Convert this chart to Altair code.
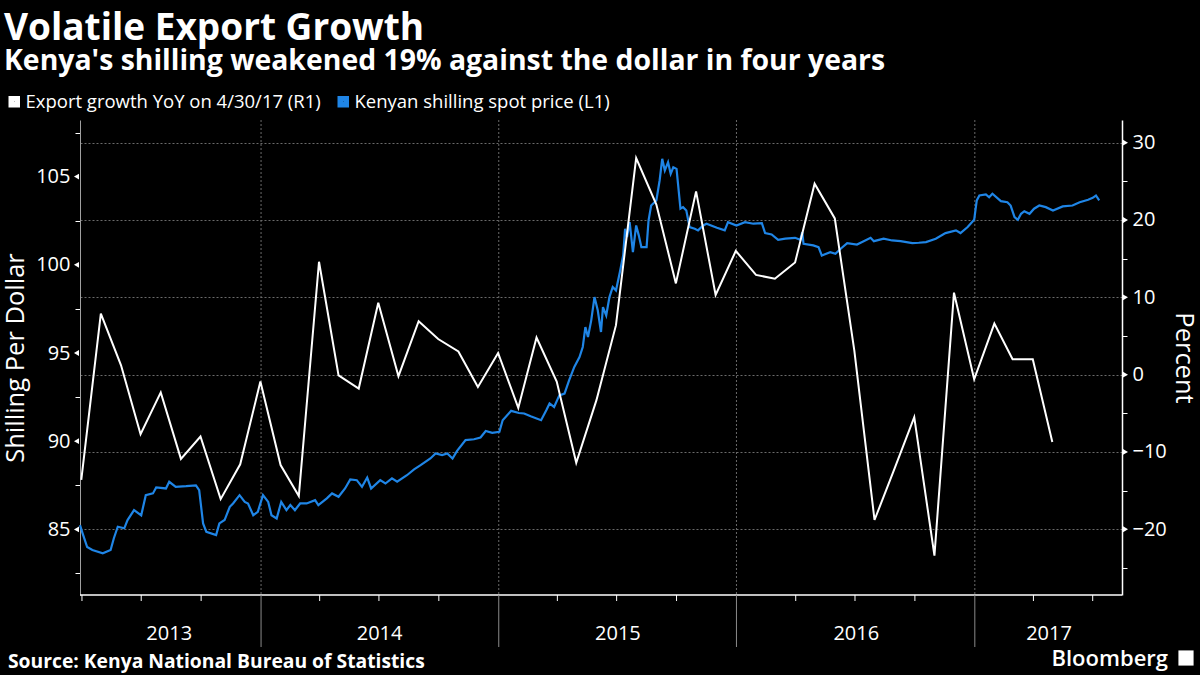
import altair as alt
import pandas as pd

FONT = "Open Sans"
BLUE = "#1f85e6"

TITLE = "Volatile Export Growth"
SUBTITLE = "Kenya's shilling weakened 19% against the dollar in four years"
SERIES = ["Export growth YoY on 4/30/17 (R1)", "Kenyan shilling spot price (L1)"]
SOURCE = "Source: Kenya National Bureau of Statistics"
BRAND = "Bloomberg"
LEFT_TITLE = "Shilling Per Dollar"
RIGHT_TITLE = "Percent"

# Monthly export growth YoY (%), month ends
export_dates = [
    "2013-03-31", "2013-04-30", "2013-05-31", "2013-06-30", "2013-07-31", "2013-08-31",
    "2013-09-30", "2013-10-31", "2013-11-30", "2013-12-31",
    "2014-01-31", "2014-02-28", "2014-03-31", "2014-04-30", "2014-05-31", "2014-06-30",
    "2014-07-31", "2014-08-31", "2014-09-30", "2014-10-31", "2014-11-30", "2014-12-31",
    "2015-01-31", "2015-02-28", "2015-03-31", "2015-04-30", "2015-05-31", "2015-06-30",
    "2015-07-31", "2015-08-31", "2015-09-30", "2015-10-31", "2015-11-30", "2015-12-31",
    "2016-01-31", "2016-02-29", "2016-03-31", "2016-04-30", "2016-05-31", "2016-06-30",
    "2016-07-31", "2016-08-31", "2016-09-30", "2016-10-31", "2016-11-30", "2016-12-31",
    "2017-01-31", "2017-02-28", "2017-03-31", "2017-04-30",
]
export_growth = [
    -13.6, 7.9, 1.2, -7.7, -2.3, -10.9, -8.0, -16.1, -11.6, -0.9,
    -11.7, -15.7, 14.6, -0.1, -1.8, 9.3, -0.2, 6.9, 4.6, 3.0, -1.6, 2.8,
    -4.3, 4.8, -0.9, -11.4, -3.3, 6.4, 28.0, 22.0, 11.8, 23.7, 10.3, 16.0,
    12.9, 12.4, 14.5, 24.7, 20.2, 3.1, -18.8, -12.1, -5.5, -23.4, 10.6, -0.6,
    6.6, 2.0, 2.0, -8.7,
]

# Kenyan shilling spot price: sample days (days after 2013-01-01) and values
fx_days = [
    87, 91, 98, 106, 122, 134, 139, 145, 155, 160, 170, 181, 188, 199, 204, 219, 224, 234,
    250, 265, 270, 276, 281, 296, 301, 309, 317, 322, 332, 340, 345, 353, 360, 368, 376,
    381, 389, 396, 404, 410, 417, 425, 435, 448, 453, 466, 474, 484, 494, 502, 512, 520,
    528, 534, 548, 556, 566, 574, 589, 600, 610, 625, 633, 643, 651, 659, 666, 679, 692,
    702, 710, 720, 731, 736, 749, 761, 769, 779, 795, 803, 808, 815, 823, 831, 838, 846,
    854, 859, 863, 867, 872, 877, 882, 887, 890, 895, 900, 905, 910, 916, 921, 924, 927,
    931, 936, 941, 945, 949, 957, 960, 964, 972, 977, 981, 985, 990, 994, 998, 1003, 1009,
    1013, 1018, 1023, 1031, 1036, 1044, 1049, 1065, 1077, 1082, 1095, 1108, 1121, 1134,
    1139, 1149, 1159, 1170, 1185, 1193, 1196, 1198, 1213, 1221, 1226, 1239, 1247, 1255,
    1265, 1280, 1288, 1301, 1306, 1321, 1334, 1347, 1365, 1375, 1386, 1401, 1416, 1432,
    1439, 1450, 1460, 1464, 1468, 1478, 1483, 1488, 1501, 1511, 1516, 1522, 1527, 1532,
    1537, 1545, 1552, 1560, 1570, 1581, 1596, 1611, 1622, 1635, 1642, 1647, 1652,
]
fx_price = [
    85.24, 84.77, 84.0, 83.83, 83.64, 83.83, 84.5, 85.15, 85.06, 85.53, 86.09, 85.8, 86.94,
    87.04, 87.38, 87.32, 87.7, 87.41, 87.45, 87.5, 87.22, 85.34, 84.86, 84.68, 85.34, 85.53,
    86.28, 86.47, 86.94, 86.56, 86.47, 85.8, 86.0, 86.94, 86.56, 85.8, 85.62, 86.56, 86.09,
    86.38, 86.09, 86.47, 86.47, 86.66, 86.38, 86.76, 87.04, 86.85, 87.32, 87.83, 87.79,
    87.41, 87.94, 87.32, 87.79, 87.6, 87.89, 87.7, 88.07, 88.4, 88.64, 89.02, 89.3, 89.21,
    89.3, 89.02, 89.45, 90.06, 90.11, 90.21, 90.58, 90.47, 90.53, 91.19, 91.72, 91.6, 91.57,
    91.41, 91.19, 91.76, 92.14, 91.94, 92.6, 92.7, 93.45, 94.21, 94.77, 95.34, 96.47, 95.91,
    96.85, 98.17, 97.42, 96.19, 97.6, 97.13, 98.17, 98.74, 98.55, 99.59, 100.53, 102.04,
    101.57, 102.42, 100.72, 102.23, 101.67, 101.0, 101.0, 102.51, 103.36, 103.65, 104.78,
    106.01, 105.35, 105.82, 105.16, 105.53, 105.44, 103.18, 103.27, 103.08, 102.14, 102.04,
    101.95, 102.23, 102.33, 102.1, 101.95, 102.42, 102.23, 102.42, 102.33, 102.36, 101.8,
    101.72, 101.42, 101.48, 101.53, 101.42, 101.85, 101.19, 101.1, 101.0, 100.53, 100.72,
    100.63, 100.91, 101.23, 101.15, 101.29, 101.53, 101.34, 101.48, 101.38, 101.34, 101.23,
    101.25, 101.29, 101.48, 101.8, 101.95, 101.8, 102.14, 102.55, 103.65, 103.93, 103.99,
    103.83, 104.03, 103.61, 103.55, 103.36, 102.7, 102.55, 102.89, 103.04, 102.89, 103.18,
    103.36, 103.27, 103.08, 103.31, 103.36, 103.55, 103.69, 103.8, 103.93, 103.65,
]

left_ticks = [82.5, 85, 87.5, 90, 92.5, 95, 97.5, 100, 102.5, 105, 107.5]
left_major = [85, 90, 95, 100, 105]
right_ticks = [-25, -20, -15, -10, -5, 0, 5, 10, 15, 20, 25, 30]
right_major = [-20, -10, 0, 10, 20, 30]
year_starts = ["2014-01-01", "2015-01-01", "2016-01-01", "2017-01-01"]
quarter_starts = [
    "2013-04-01", "2013-07-01", "2013-10-01",
    "2014-04-01", "2014-07-01", "2014-10-01",
    "2015-04-01", "2015-07-01", "2015-10-01",
    "2016-04-01", "2016-07-01", "2016-10-01",
    "2017-04-01", "2017-07-01",
]
year_labels = ["2013", "2014", "2015", "2016", "2017"]
year_label_pos = ["2013-08-13", "2014-07-02", "2015-07-03", "2016-07-03", "2017-04-25"]

# ---------------- data frames ----------------
exp_df = pd.DataFrame({
    "date": pd.to_datetime(export_dates),
    "value": export_growth,
    "series": SERIES[0],
})
fx_df = pd.DataFrame({
    "date": pd.Timestamp("2013-01-01") + pd.to_timedelta(fx_days, unit="D"),
    "value": fx_price,
    "series": SERIES[1],
})
year_df = pd.DataFrame({"d": pd.to_datetime(year_starts)})
quarter_df = pd.DataFrame({"d": pd.to_datetime(quarter_starts)})
ylabel_df = pd.DataFrame({"d": pd.to_datetime(year_label_pos), "label": year_labels})

W, H = 1042, 475
PAD_L, PAD_T = 80, 120
GRID = "#6a6a6a"

x_scale = alt.Scale(domain=[alt.DateTime(year=2013, month=3, date=29),
                            alt.DateTime(year=2017, month=8, date=15)])
left_scale = alt.Scale(domain=[81.28, 108.21], nice=False, zero=False)
right_scale = alt.Scale(domain=[-28.5, 32.93], nice=False, zero=False)
color_scale = alt.Scale(domain=SERIES, range=["#ffffff", BLUE])

left_axis = alt.Axis(
    orient="left", values=left_ticks,
    labelExpr="datum.value % 5 == 0 ? datum.label : ''",
    labelOverlap=False,
    tickSize=5, tickColor="white", tickWidth=1,
    tickOpacity={"condition": {"test": "datum.value % 5 == 0", "value": 0}, "value": 1},
    labelPadding=5, labelFontSize=20, labelColor="white", labelFont=FONT,
    domainColor="#a0a0a0", domainWidth=1, grid=False,
    title=LEFT_TITLE, titleFontSize=25.5, titleFont=FONT, titleFontWeight="normal",
    titleColor="white", titlePadding=7,
)

right_axis = alt.Axis(
    orient="right", values=right_ticks,
    labelExpr="datum.value % 10 == 0 ? datum.label : ''",
    labelOverlap=False,
    tickSize=5, tickColor="white", tickWidth=1,
    tickOpacity={"condition": {"test": "datum.value % 10 == 0", "value": 0}, "value": 1},
    labelPadding=5, labelFontSize=20, labelColor="white", labelFont=FONT,
    domainColor="white", domainWidth=1.5,
    grid=True, gridColor=GRID, gridDash=[2, 2], gridWidth=1,
    gridOpacity={"condition": {"test": "datum.value % 10 == 0", "value": 1}, "value": 0},
    title=RIGHT_TITLE, titleFontSize=25.5, titleFont=FONT, titleFontWeight="normal",
    titleColor="white", titlePadding=4,
)

legend = alt.Legend(
    orient="none", legendX=-75, legendY=-28, direction="horizontal", title=None,
    symbolType="square", symbolSize=36, symbolStrokeWidth=5.5,
    labelFontSize=18.5, labelColor="white", labelFont=FONT, labelLimit=600,
    columnPadding=8, labelOffset=2,
)

# vertical dashed gridlines at year boundaries
year_grid = alt.Chart(year_df).mark_rule(color=GRID, strokeWidth=1, strokeDash=[2, 2]).encode(
    x=alt.X("d:T", scale=x_scale, axis=None),
    y=alt.value(0),
    y2=alt.value(H),
)

blue = alt.Chart(fx_df).mark_line(strokeWidth=2.2).encode(
    x=alt.X("date:T", scale=x_scale, axis=None),
    y=alt.Y("value:Q", scale=left_scale, axis=left_axis),
    color=alt.Color("series:N", scale=color_scale, legend=legend),
)

# bottom axis: domain line, quarter ticks, long year ticks, year labels
x_domain = alt.Chart(pd.DataFrame({"k": [0]})).mark_rule(color="white", strokeWidth=1.5).encode(
    x=alt.value(0), x2=alt.value(W), y=alt.value(H),
)
quarter_ticks = alt.Chart(quarter_df).mark_rule(color="white", strokeWidth=1).encode(
    x=alt.X("d:T", scale=x_scale, axis=None),
    y=alt.value(H),
    y2=alt.value(H + 6),
)
year_ticks = alt.Chart(year_df).mark_rule(color="#8a8a8a", strokeWidth=1).encode(
    x=alt.X("d:T", scale=x_scale, axis=None),
    y=alt.value(H),
    y2=alt.value(H + 52),
)
year_text = alt.Chart(ylabel_df).mark_text(
    font=FONT, fontSize=20, color="white", baseline="middle", align="center"
).encode(
    x=alt.X("d:T", scale=x_scale, axis=None),
    y=alt.value(H + 39),
    text="label:N",
)

tri_left = alt.Chart(pd.DataFrame({"v": left_major})).mark_point(
    shape="triangle-left", filled=True, size=34, color="white", opacity=1
).encode(
    x=alt.value(-3.5),
    y=alt.Y("v:Q", scale=left_scale, axis=None),
)

white = alt.Chart(exp_df).mark_line(strokeWidth=2).encode(
    x=alt.X("date:T", scale=x_scale, axis=None),
    y=alt.Y("value:Q", scale=right_scale, axis=right_axis),
    color=alt.Color("series:N", scale=color_scale, legend=legend),
)

tri_right = alt.Chart(pd.DataFrame({"v": right_major})).mark_point(
    shape="triangle-right", filled=True, size=34, color="white", opacity=1
).encode(
    x=alt.value(W + 3.5),
    y=alt.Y("v:Q", scale=right_scale, axis=None),
)

source_text = alt.Chart(pd.DataFrame({"t": [SOURCE]})).mark_text(
    align="left", baseline="middle", font=FONT, fontSize=19.3, fontWeight="bold", color="white"
).encode(x=alt.value(-72), y=alt.value(542), text="t:N")

brand_text = alt.Chart(pd.DataFrame({"t": [BRAND]})).mark_text(
    align="right", baseline="middle", font=FONT, fontSize=22, fontWeight=600, color="white"
).encode(x=alt.value(1088), y=alt.value(539), text="t:N")

brand_icon = alt.Chart(pd.DataFrame({"t": [BRAND]})).mark_point(
    shape="square", filled=True, size=230, color="white", opacity=1
).encode(x=alt.value(1106), y=alt.value(538))

chart = alt.layer(
    year_grid, blue, x_domain, quarter_ticks, year_ticks, year_text, tri_left,
    white, tri_right, source_text, brand_text, brand_icon
).resolve_scale(
    y="independent"
).properties(
    width=W, height=H,
    title=alt.TitleParams(
        text=TITLE, subtitle=SUBTITLE, anchor="start", frame="group",
        font=FONT, fontSize=37, fontWeight="bold", color="white",
        subtitleFont=FONT, subtitleFontSize=28.4, subtitleFontWeight="bold",
        subtitleColor="white", subtitlePadding=0, dx=-76, offset=16,
    ),
    background="#000000",
    autosize=alt.AutoSizeParams(type="none"),
    padding={"left": PAD_L, "top": PAD_T, "right": 1200 - PAD_L - W, "bottom": 675 - PAD_T - H},
).configure_view(strokeWidth=0)

chart.save("out.html", embed_options={"renderer": "svg", "actions": False})
